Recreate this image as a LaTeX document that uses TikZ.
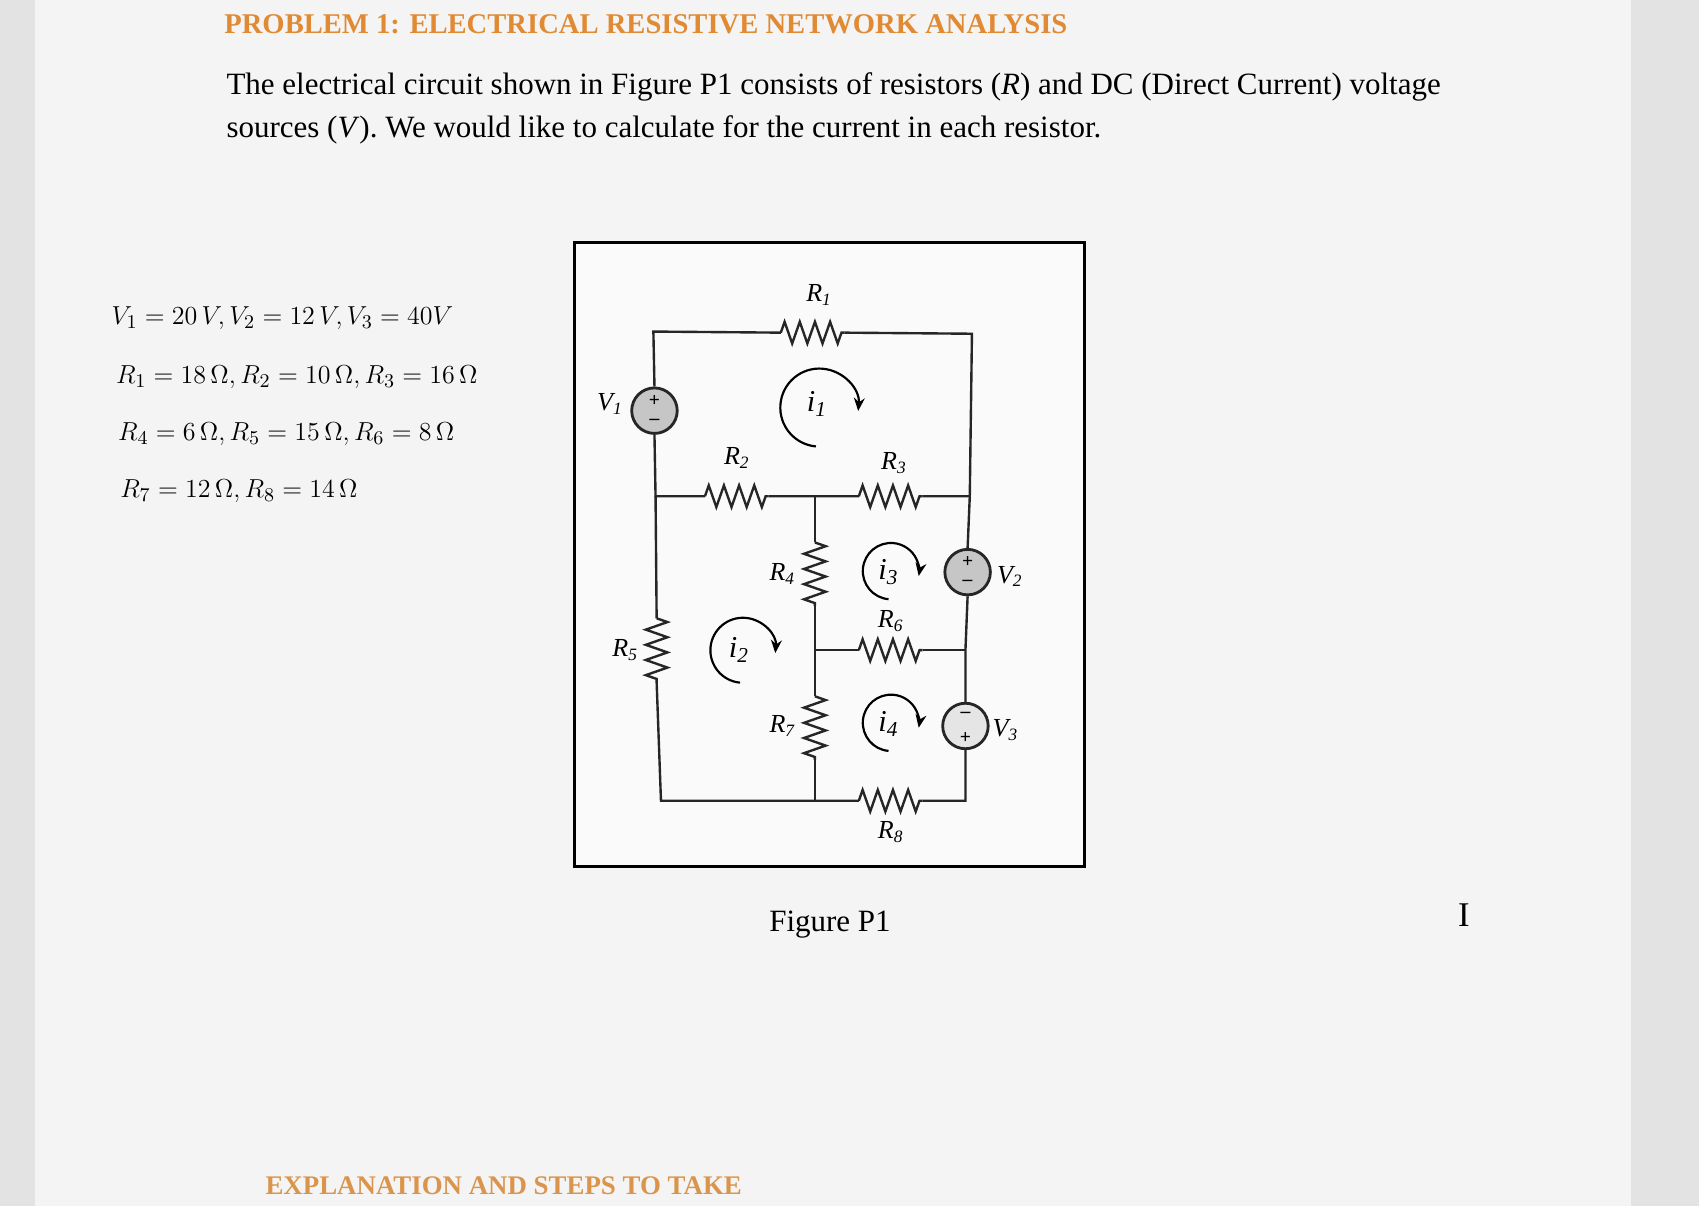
\documentclass[tikz,border=0pt]{standalone}
\usepackage{fontspec}
\setmainfont{Liberation Serif}
\usetikzlibrary{decorations.pathmorphing,arrows.meta}
\begin{document}
\begin{tikzpicture}[x=0.5pt,y=-0.5pt,
  wire/.style={line width=1.1pt,draw=black!85},
  res/.style={line width=1.1pt,draw=black!85,decorate,decoration={zigzag,segment length=7pt,amplitude=5pt}},
  rbox/.style={inner sep=0pt,minimum width=29pt,minimum height=0pt},
  vbox/.style={inner sep=0pt,minimum width=0pt,minimum height=29pt},
  src/.style={circle,draw=black!85,line width=1.3pt,fill=gray!45,minimum size=21pt,inner sep=0pt},
  lbl/.style={font=\itshape\fontsize{12}{12}\selectfont},
  loop/.style={line width=1pt,-{Stealth[length=6pt,width=5pt]}},
  head/.style={text=orange!85!black!80,font=\bfseries\fontsize{13.2}{14}\selectfont,anchor=west},
  body/.style={font=\fontsize{14.3}{15}\selectfont,anchor=west},
  eq/.style={font=\fontsize{12.6}{15}\selectfont,anchor=west}
]
\useasboundingbox (0,0) rectangle (1568,1113);
\fill[gray!22] (0,0) rectangle (1568,1113);
\fill[gray!9] (32,0) rectangle (1505,1113);
\node[head] (title) at (200,22) {PROBLEM 1: ELECTRICAL RESISTIVE NETWORK ANALYSIS};
\node[body] (p1) at (202,80) {The electrical circuit shown in Figure P1 consists of resistors (\textit{R}) and DC (Direct Current) voltage};
\node[body] (p2) at (202,120) {sources (\textit{V}). We would like to calculate for the current in each resistor.};
\node[eq] (e1) at (96,294) {$V_1=20\,V, V_2=12\,V, V_3=40V$};
\node[eq] (e2) at (100,348) {$R_1=18\,\Omega, R_2=10\,\Omega, R_3=16\,\Omega$};
\node[eq] (e3) at (102,401) {$R_4=6\,\Omega, R_5=15\,\Omega, R_6=8\,\Omega$};
\node[eq] (e4) at (104,453) {$R_7=12\,\Omega, R_8=14\,\Omega$};
\node[body,anchor=center] (fig) at (766,853) {Figure P1};
\node[head,text=orange!80!black!70,font=\bfseries\fontsize{12.4}{13}\selectfont] (expl) at (238,1094) {EXPLANATION AND STEPS TO TAKE};
\node[font=\fontsize{16}{16}\selectfont] (cur) at (1351,845) {I};
% frame
\draw[line width=1.5pt,fill=gray!4] (530,224) rectangle (1001,800);
% nodes
\coordinate (TL) at (603,306); \coordinate (TR) at (897,308);
\coordinate (ML) at (605,458); \coordinate (M) at (752,458); \coordinate (MR) at (895,458);
\coordinate (N6L) at (752,600); \coordinate (N6R) at (891,600);
\coordinate (BL) at (610,739); \coordinate (BM) at (752,739); \coordinate (BR) at (891,739);
\node[src] (V1) at (604,379) {}; \node[font=\bfseries\small] at (604,370) {+}; \node[font=\bfseries\small] at (604,389) {--};
\node[src] (V2) at (893,528) {}; \node[font=\bfseries\small] at (893,519) {+}; \node[font=\bfseries\small] at (893,538) {--};
\node[src,fill=gray!20] (V3) at (891,670) {}; \node[font=\bfseries\small] at (891,660) {--}; \node[font=\bfseries\small] at (891,681) {+};
\node[rbox] (R1) at (750,307) {}; \node[rbox] (R2) at (680,458) {}; \node[rbox] (R3) at (822,458) {};
\node[rbox] (R6) at (822,600) {}; \node[rbox] (R8) at (822,739) {};
\node[vbox] (R4) at (752,530) {}; \node[vbox] (R5) at (606,600) {}; \node[vbox] (R7) at (752,672) {};
\foreach \r in {R1,R2,R3,R6,R8} \draw[res] (\r.west) -- (\r.east);
\foreach \r in {R4,R5,R7} \draw[res] (\r.north) -- (\r.south);
\draw[wire] (V1.north) -- (TL) -- (R1.west) (R1.east) -- (TR) -- (MR) -- (V2.north);
\draw[wire] (V1.south) -- (ML) -- (R2.west) (R2.east) -- (M) -- (R3.west) (R3.east) -- (MR);
\draw[wire] (M) -- (R4.north) (R4.south) -- (N6L) -- (R6.west) (R6.east) -- (N6R);
\draw[wire] (V2.south) -- (N6R) -- (V3.north) (V3.south) -- (BR) -- (R8.east) (R8.west) -- (BM) -- (BL) -- (R5.south) (R5.north) -- (ML);
\draw[wire] (N6L) -- (R7.north) (R7.south) -- (BM);
% labels
\node[lbl] (lV1) at (563,373) {V\textsubscript{1}};
\node[lbl] (lV2) at (932,532) {V\textsubscript{2}};
\node[lbl] (lV3) at (928,674) {V\textsubscript{3}};
\node[lbl] (lR1) at (756,272) {R\textsubscript{1}};
\node[lbl] (lR2) at (680,423) {R\textsubscript{2}};
\node[lbl] (lR3) at (825,427) {R\textsubscript{3}};
\node[lbl] (lR4) at (722,530) {R\textsubscript{4}};
\node[lbl] (lR5) at (577,600) {R\textsubscript{5}};
\node[lbl] (lR6) at (822,573) {R\textsubscript{6}};
\node[lbl] (lR7) at (722,670) {R\textsubscript{7}};
\node[lbl] (lR8) at (822,768) {R\textsubscript{8}};
% loops
\node[lbl,font=\itshape\fontsize{14}{14}\selectfont] (i1) at (754,373) {i\textsubscript{1}};
\draw[loop] (753,412) arc[start angle=265,end angle=-5,radius=18pt];
\node[lbl,font=\itshape\fontsize{14}{14}\selectfont] (i2) at (682,600) {i\textsubscript{2}};
\draw[loop] (683,630) arc[start angle=265,end angle=-5,radius=15pt];
\node[lbl,font=\itshape\fontsize{14}{14}\selectfont] (i3) at (820,528) {i\textsubscript{3}};
\draw[loop] (820,553) arc[start angle=265,end angle=-10,radius=13pt];
\node[lbl,font=\itshape\fontsize{14}{14}\selectfont] (i4) at (820,668) {i\textsubscript{4}};
\draw[loop] (820,693) arc[start angle=265,end angle=-10,radius=13pt];
\end{tikzpicture}
\end{document}
